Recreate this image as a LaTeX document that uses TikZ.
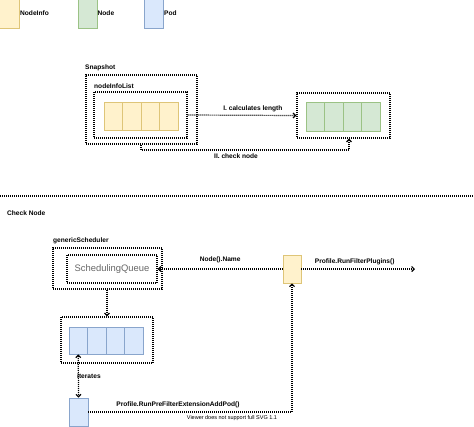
\documentclass[tikz,border=0pt]{standalone}
\usepackage{fontspec}
\setmainfont{Liberation Sans}
\usepackage{xcolor}
\definecolor{niFill}{HTML}{FFF2CC}
\definecolor{niDraw}{HTML}{D6B656}
\definecolor{ndFill}{HTML}{D5E8D4}
\definecolor{ndDraw}{HTML}{82B366}
\definecolor{podFill}{HTML}{DAE8FC}
\definecolor{podDraw}{HTML}{6C8EBF}
\usetikzlibrary{arrows.meta,positioning}

\begin{document}
\begin{tikzpicture}[
  x=1pt,y=-1pt,
  font=\bfseries\fontsize{6.6}{8}\selectfont,
  cell/.style={rectangle,line width=0.6pt,minimum width=18.5pt,minimum height=28pt,inner sep=0pt},
  nicell/.style={cell,fill=niFill,draw=niDraw!80},
  ndcell/.style={cell,fill=ndFill,draw=ndDraw!80},
  podcell/.style={cell,fill=podFill,draw=podDraw!80},
  dotline/.style={line width=1.2pt,dash pattern=on 1pt off 1pt},
  dotbox/.style={rectangle,dotline,draw,inner sep=0pt},
  lbl/.style={anchor=west,inner sep=0pt},
  tag/.style={inner sep=0pt},
  arr/.style={dotline,-{Straight Barb[length=2.5pt,width=5pt]}},
  darr/.style={dotline,{Straight Barb[length=2.5pt,width=5pt]}-{Straight Barb[length=2.5pt,width=5pt]}}
]
\useasboundingbox (0,0) rectangle (474,426);
\clip (0,0) rectangle (474,426);

% legend
\node[nicell,minimum width=20pt,minimum height=34pt] (legNI) at (9,11) {};
\node[lbl] (legNItxt) at (20,13) {NodeInfo};
\node[ndcell,minimum width=19pt,minimum height=34pt] (legND) at (87.5,11) {};
\node[lbl] (legNDtxt) at (97.5,13) {Node};
\node[podcell,minimum width=19pt,minimum height=34pt] (legPod) at (153.5,11) {};
\node[lbl] (legPodtxt) at (164,13) {Pod};

% snapshot
\node[lbl] (snapTxt) at (85,68) {Snapshot};
\node[dotbox,minimum width=111pt,minimum height=69pt] (snap) at (141.5,109.5) {};
\node[lbl] (listTxt) at (94,86) {nodeInfoList};
\node[dotbox,minimum width=93pt,minimum height=46pt] (list) at (140.5,115) {};
\foreach \i in {0,...,3}
  \node[nicell] (ni\i) at ({113.25+18.5*\i},116) {};
\node[dotbox,minimum width=93pt,minimum height=45pt] (nodes) at (343.5,115.5) {};
\foreach \i in {0,...,3}
  \node[ndcell,minimum height=29pt] (nd\i) at ({315.25+18.5*\i},116.5) {};
\draw[arr] (list.east) -- (nodes.west) node[tag,pos=0.6,above=3pt] {I. calculates length};
\coordinate (chkL) at (141,150);
\coordinate (chkR) at (349,150);
\draw[arr] (snap.south -| chkL) -- (chkL) -- (chkR) -- (nodes.south -| chkR);
\node[tag] (chkTxt) at (236,156) {II. check node};

% separator
\coordinate (sepL) at (0,196);
\coordinate (sepR) at (474,196);
\draw[dotline] (sepL) -- (sepR);

% check node
\node[lbl] (checkTxt) at (7,213) {Check Node};
\node[lbl] (gsTxt) at (53,241) {genericScheduler};
\node[dotbox,minimum width=109pt,minimum height=41pt] (gs) at (107.5,268.5) {};
\node[dotbox,minimum width=90pt,minimum height=28pt,font=\fontsize{9.4}{11}\selectfont,text=black!60] (queue) at (112,269) {SchedulingQueue};
\node[nicell,minimum width=18pt] (filter) at (292,269) {};
\draw[arr] (filter.west) -- (queue.east) node[tag,midway,above=6pt] {Node().Name};
\coordinate (filterEnd) at (415,269);
\draw[arr] (filter.east) -- (filterEnd) node[tag,pos=0.47,above=4pt] {Profile.RunFilterPlugins()};

\node[dotbox,minimum width=92pt,minimum height=46pt] (pods) at (107,340) {};
\foreach \i in {0,...,3}
  \node[podcell,minimum height=27pt] (pod\i) at ({78.25+18.5*\i},340.5) {};
\draw[arr] (gs.south -| pods.north) -- (pods.north);
\node[podcell,minimum width=19pt] (pod) at (78.5,412) {};
\draw[darr] (pod0.south) -- (pod.north);
\node[lbl] (iterTxt) at (77,376) {iterates};
\coordinate (preR) at (292,412);
\draw[arr] (pod.east) -- (preR) -- (filter.south);
\node[tag] (preTxt) at (178,405) {Profile.RunPreFilterExtensionAddPod()};

\node[tag,font=\fontsize{5.5}{6}\selectfont] (viewer) at (232,418) {Viewer does not support full SVG 1.1};
\end{tikzpicture}
\end{document}
